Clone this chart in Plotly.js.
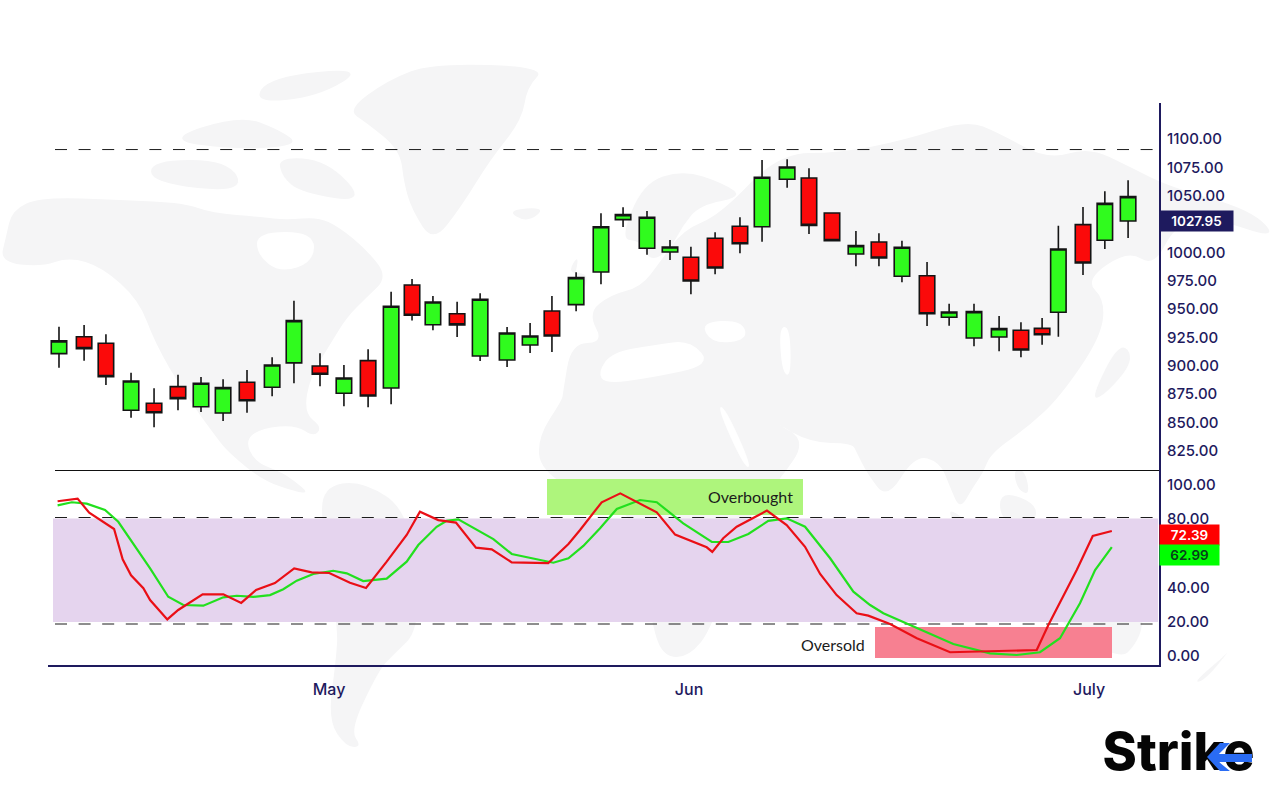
<!DOCTYPE html>
<html><head><meta charset="utf-8">
<script src="https://cdn.plot.ly/plotly-3.0.1.min.js"></script>
<style>html,body{margin:0;padding:0;background:#fff}#chart{width:1280px;height:800px}</style>
</head><body><div id="chart"></div>
<script>
// ---------- price pane ----------
const session=[0,1.08,2.02,3.1,4.09,5.12,6.11,7.06,8.09,9.17,10.11,11.23,12.26,13.3,14.29,15.19,16.09,17.13,18.12,19.28,20.27,21.21,22.25,23.32,24.27,25.3,26.29,27.19,28.23,29.3,30.25,31.33,32.27,33.26,34.29,35.28,36.27,37.35,38.3,39.37,40.45,41.39,42.3,43,44.06,45,46];
const open=[909.9,924.8,919,860,866.1,880.8,863.1,857.6,884.6,880.2,901.7,899,875,903.7,879.6,970.4,935.4,945.1,907.8,904.3,917.5,947.5,953.1,981.9,1028,1002.8,999.5,994.8,1011.6,1022.2,1021.8,1063.6,1064.7,1033.9,997.7,1008.3,978.1,978.6,941.9,923.7,924.6,930.5,932.2,946.4,1023.6,1009.8,1026.8];
const high=[933.7,935.2,927,893.1,879.4,891.3,889.3,887.3,895.5,906.7,956.6,910.2,899.9,913.7,964.5,975.7,960.7,955.7,963.1,933.4,936.9,960.7,981.6,1033.6,1038.9,1035.7,1010.1,1004.2,1016.9,1030.1,1080.6,1081.2,1073.3,1033.9,1018,1016,1009.5,990.7,953.9,953.9,943.1,937.5,941.3,1022.7,1039.2,1053,1062.7];
const low=[897.5,903.7,882.3,853.4,845,860,858.5,850.5,857.8,872.3,883.8,881.1,863.5,862.6,865.3,939,930.5,924.6,903.4,898.1,910.5,911.4,947.2,971,1021.5,997.1,992.5,962.2,979.9,998.4,1008.6,1056.2,1015.4,1009.5,986.9,986.9,972.8,934.3,934.5,916.4,912,906.7,917.8,924.8,979.2,1002.2,1011.8];
const close=[921.1,914.3,889.6,885.8,857.8,870.2,883.8,879.9,868.4,899.9,939,891.7,888.4,872.6,951.6,943.7,955.4,935.2,957.8,928.1,925.5,925.5,976.9,1021.8,1032.4,1030.1,1003.9,973.9,985.4,1006.8,1065.4,1074.4,1023,1009.5,1005.1,994.2,1003.7,945.1,946.6,946.9,931.9,913.1,926.6,1002.2,989.8,1042.4,1048.3];
const priceTicks=[825,850,875,900,925,950,975,1000,1050,1075,1100];
const lastPrice=1027.95, resistance=1089.8;
// ---------- oscillator pane ----------
const redX=[-0.06,0.8,1.3,2.37,2.74,3.1,3.63,3.92,4.66,5.13,6.18,7.07,7.84,8.48,9.29,10.12,10.87,11.63,12.52,13.21,14.1,14.96,15.53,16.32,17.08,17.94,18.62,19.48,21.05,21.92,22.42,23.35,24.15,25.72,26.51,27.87,28.11,28.58,29.16,30.46,31.31,32.1,32.75,33.46,34.32,34.82,35.76,36.91,38.34,42.07,42.57,43.79,44.48,45.3];
const redK=[89.8,91.3,83.1,73.6,55.9,46.5,39,32.1,20.8,26.3,35.4,35.4,30.4,38,42,50.6,48.3,47.9,42.2,39.1,54.5,70.1,83.7,78.8,77.3,62.7,61.7,54.1,53.7,64.8,73,89.2,94.4,83.3,70.3,62.9,60.2,68.2,74.9,84.3,75.9,63.2,47.3,35,24.4,23,18.1,9.8,1.6,2.9,17.5,49.6,69.5,72.39];
const greenX=[-0.06,0.55,1.19,1.98,2.55,3.06,3.92,4.7,5.35,6.21,7.07,7.65,8.36,9.08,9.65,10.23,10.94,11.8,12.38,13.09,14.1,14.96,15.46,16.25,16.68,17.18,18.69,19.48,21.27,21.92,22.56,23.28,24,25,25.72,26.86,28.09,28.8,29.66,30.52,31.31,32.1,33.18,34.18,34.9,35.47,36.62,38.48,40.06,41.21,42.21,43.07,43.93,44.58,45.3];
const greenD=[87.4,89.2,88.4,84.7,77.8,67.7,50.6,34,29.2,28.8,33.7,34.6,33.9,35,38.4,43.4,47.3,49.2,47.7,43.2,44.6,54.5,64.2,74.9,78.4,79.2,67.7,59,53.9,56.5,63.7,74,85.3,90.5,89.2,76.9,66,66,70.7,78.3,79.8,74.9,56.5,37,29.2,24.4,17.5,6.4,1,0,1.6,9.8,30.2,49.6,62.99];
const oscTicks=[0,20,40,80,100];
const overboughtLine=80.3, oversoldLine=18.1;
// ---------- x axis labels ----------
const monthVals=[11.62,27.11,44.32];
const monthLabels=['May','Jun','July'];

// ---------- background world map silhouette (decorative, in page pixels) ----------
const mapLand=[
 [[0,262],[6,237],[12,210],[41,197],[122,200],[184,203],[212,213],[261,217],[286,220],[318,217],[339,227],[367,250],[388,277],[366,298],[347,317],[331,343],[310,377],[304,413],[322,427],[314,437],[296,425],[262,428],[245,440],[255,462],[281,472],[293,480],[309,493],[296,492],[262,480],[229,453],[216,437],[184,393],[155,343],[139,300],[102,267],[69,257],[41,267]],
 [[322,487],[362,480],[411,513],[422,627],[391,657],[379,670],[350,730],[362,747],[346,747],[328,720],[336,660],[338,627],[322,530]],
 [[347,110],[388,80],[433,63],[547,67],[527,87],[522,120],[490,160],[461,207],[433,243],[412,210],[404,183],[400,150],[367,123]],
 [[269,77],[367,67],[318,97],[253,103]],
 [[163,140],[240,115],[280,130],[300,145],[240,150]],
 [[151,160],[229,160],[245,193],[151,183]],
 [[278,157],[327,160],[367,203],[302,193],[282,177]],
 [[506,210],[547,207],[527,223]],
 [[580,253],[567,273],[588,273],[585,290],[572,288]],
 [[620,240],[643,183],[683,170],[723,183],[743,197],[700,205],[683,225],[670,250],[650,262],[640,240]],
 [[588,313],[610,295],[641,287],[660,262],[683,230],[720,215],[779,153],[840,153],[905,140],[967,120],[999,133],[1048,160],[1089,147],[1130,167],[1170,187],[1252,210],[1279,240],[1211,217],[1175,225],[1154,267],[1128,250],[1085,280],[1105,300],[1101,337],[1060,397],[1028,427],[991,453],[983,473],[973,487],[960,510],[950,487],[940,462],[915,455],[887,500],[867,473],[857,453],[852,443],[811,443],[770,420],[807,440],[780,480],[750,510],[713,627],[689,657],[664,657],[652,627],[640,540],[625,510],[590,500],[540,470],[538,437],[562,400],[563,393],[571,343],[604,343]],
 [[1120,340],[1135,360],[1105,395],[1090,400]],
 [[943,503],[985,535],[965,540]],
 [[1000,490],[1040,505],[1030,530],[1000,520]],
 [[1013,470],[1025,470],[1030,495],[1018,490]],
 [[1060,560],[1143,590],[1143,627],[1135,645],[1120,660],[1050,620]],
 [[1223,657],[1230,650],[1205,680],[1193,683]]
];
const mapSea=[
 [[257,232],[314,232],[314,262],[280,273],[257,255]],
 [[598,372],[612,352],[655,345],[690,340],[712,365],[650,378],[605,384]],
 [[700,322],[742,320],[748,340],[712,344]],
 [[779,327],[790,327],[791,377],[782,372]],
 [[717,407],[725,407],[752,467],[744,467]]
];

const W=1280,H=800;
const px=x=>x/W, py=y=>1-y/H;
const fx=q=>px(q[0]).toFixed(4)+','+py(q[1]).toFixed(4);
const toPath=p=>'M'+p.map(fx).join('L')+'Z';
const smooth=p=>{
 const mid=(a,b)=>[(a[0]+b[0])/2,(a[1]+b[1])/2];
 let d='M'+fx(mid(p[p.length-1],p[0]));
 p.forEach((q,i)=>{d+='Q'+fx(q)+' '+fx(mid(q,p[(i+1)%p.length]));});
 return d+'Z';
};
const shapes=[];
mapLand.forEach(p=>shapes.push({type:'path',xref:'paper',yref:'paper',path:smooth(p),fillcolor:'#f5f5f6',line:{width:0},layer:'below'}));
mapSea.forEach(p=>shapes.push({type:'path',xref:'paper',yref:'paper',path:smooth(p),fillcolor:'#ffffff',line:{width:0},layer:'below'}));

const dash='12px,11.6px', lineInk='#1c1c1c';
shapes.push(
 {type:'rect',xref:'paper',yref:'y2',x0:px(53),x1:px(1158),y0:19.3,y1:79.7,fillcolor:'#e5d4ee',line:{width:0},layer:'below'},
 {type:'rect',xref:'paper',yref:'y2',x0:px(547),x1:px(803),y0:81.8,y1:102.8,fillcolor:'#aef57c',line:{width:0},layer:'below'},
 {type:'rect',xref:'paper',yref:'y2',x0:px(875),x1:px(1112),y0:-1.75,y1:16.4,fillcolor:'#f78091',line:{width:0},layer:'below'},
 {type:'line',xref:'paper',yref:'y',x0:px(55),x1:px(1158),y0:resistance,y1:resistance,line:{color:lineInk,width:1,dash:dash}},
 {type:'line',xref:'paper',yref:'y2',x0:px(55),x1:px(1158),y0:overboughtLine,y1:overboughtLine,line:{color:lineInk,width:1,dash:dash},layer:'below'},
 {type:'line',xref:'paper',yref:'y2',x0:px(55),x1:px(1158),y0:oversoldLine,y1:oversoldLine,line:{color:lineInk,width:1,dash:dash},layer:'below'},
 {type:'line',xref:'paper',yref:'paper',x0:px(55),x1:px(1159),y0:py(470.5),y1:py(470.5),line:{color:'#111',width:1}},
 {type:'path',xref:'paper',yref:'paper',layer:'above',line:{width:0},fillcolor:'#2a6cf4',
  path:toPath([[1207,757],[1220,743],[1230,743],[1219,754],[1252,754],[1252,762],[1219,762],[1230,771],[1220,771]])}
);

const navy='#1e1a5e', uiFont='Inter, "Open Sans", sans-serif';
const labelFont={family:'Lato, sans-serif',size:16,color:'#1b1b1b'};
const tag=(txt,yref,y,shift,bg,fg,w)=>({xref:'paper',yref:yref,x:px(1159),y:y,yshift:shift,xanchor:'left',yanchor:'middle',showarrow:false,text:txt,bgcolor:bg,width:w,height:20,borderpad:0,font:{family:uiFont,size:13.5,color:fg,weight:600}});

const traces=[
 {type:'candlestick',x:session,open:open,high:high,low:low,close:close,xaxis:'x',yaxis:'y',
  increasing:{line:{color:'#141414',width:1.6},fillcolor:'#30fb1e'},
  decreasing:{line:{color:'#141414',width:1.6},fillcolor:'#fb0a0a'},
  whiskerwidth:0,showlegend:false,hoverinfo:'skip'},
 {type:'scatter',mode:'lines',x:greenX,y:greenD,xaxis:'x',yaxis:'y2',line:{color:'#22e01e',width:2.2},showlegend:false,hoverinfo:'skip'},
 {type:'scatter',mode:'lines',x:redX,y:redK,xaxis:'x',yaxis:'y2',line:{color:'#ea0f16',width:2.2},showlegend:false,hoverinfo:'skip'},
 {type:'scatter',mode:'text',x:[1178.5],y:[43],text:['Strike'],textposition:'middle center',cliponaxis:false,xaxis:'x3',yaxis:'y3',
  textfont:{family:'Inter, sans-serif',size:52,color:'#050505',weight:800},showlegend:false,hoverinfo:'skip'}
];

const tickAxis={showgrid:false,zeroline:false,showline:true,linecolor:navy,linewidth:2,ticks:'outside',tickcolor:'rgba(0,0,0,0)',fixedrange:true};
const layout={
 width:W,height:H,autosize:false,margin:{l:0,r:0,t:0,b:0},
 paper_bgcolor:'#ffffff',plot_bgcolor:'rgba(0,0,0,0)',showlegend:false,
 boxgap:0.05,boxgroupgap:0,shapes:shapes,
 xaxis:Object.assign({},tickAxis,{domain:[px(48),px(1159)],range:[-0.473,47.33],anchor:'y2',tickvals:monthVals,ticktext:monthLabels,ticklen:9,
  tickfont:{family:uiFont,size:16,color:navy,weight:500},rangeslider:{visible:false}}),
 yaxis:Object.assign({},tickAxis,{domain:[1-470/H,1-103/H],range:[807.3,1130.85],side:'right',anchor:'x',tickvals:priceTicks,tickformat:'.2f',ticklen:3,ticklabelshift:1,
  tickfont:{family:uiFont,size:15,color:navy,weight:500}}),
 yaxis2:Object.assign({},tickAxis,{domain:[1-665/H,1-470/H],range:[-5.84,108.04],side:'right',anchor:'x',tickvals:oscTicks,tickformat:'.2f',ticklen:3,ticklabelshift:1,
  tickfont:{family:uiFont,size:15,color:navy,weight:500}}),
 xaxis3:{domain:[0,1],range:[0,1280],anchor:'y3',visible:false,fixedrange:true},
 yaxis3:{domain:[0,1],range:[0,800],anchor:'x3',visible:false,fixedrange:true},
 annotations:[
  {xref:'paper',yref:'paper',x:px(795),y:py(496.5),xanchor:'right',yanchor:'middle',showarrow:false,text:'Overbought',font:labelFont},
  {xref:'paper',yref:'paper',x:px(867),y:py(644.5),xanchor:'right',yanchor:'middle',showarrow:false,text:'Oversold',font:labelFont},
  tag(lastPrice.toFixed(2),'y',lastPrice,-1.5,navy,'#ffffff',73),
  tag('72.39','y2',72.39,-4,'#ff0000','#ffffff',59),
  tag('62.99','y2',62.99,-8,'#00ff00','#063f1a',59)
 ]
};
Plotly.newPlot('chart',traces,layout,{staticPlot:true,displayModeBar:false});
</script></body></html>
